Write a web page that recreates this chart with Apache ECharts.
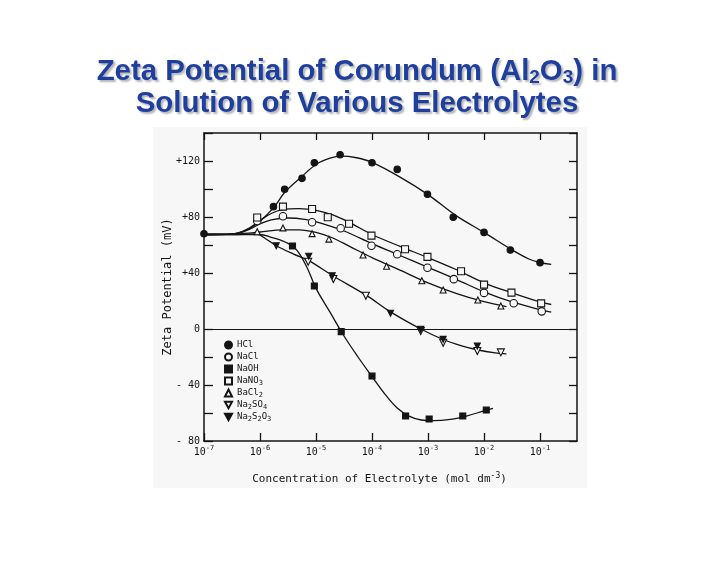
<!DOCTYPE html>
<html><head><meta charset="utf-8">
<script src="https://cdn.jsdelivr.net/npm/echarts@6/dist/echarts.min.js"></script>
<style>html,body{margin:0;padding:0;background:#fff}#c{width:728px;height:563px}</style>
</head><body><div id="c"></div>
<script>
// x values are log10 of concentration (mol dm^-3); y values are zeta potential (mV)
const seriesNames = ['HCl', 'NaCl', 'NaOH', 'NaNO3', 'BaCl2', 'Na2SO4', 'Na2S2O3'];

// measured points
const hclX = [-7, -5.76, -5.56, -5.25, -5.03, -4.57, -4.0, -3.55, -3.01, -2.55, -2.0, -1.53, -1.0];
const hclY = [68, 87.4, 99.8, 107.6, 118.8, 124.5, 118.8, 114, 96.3, 79.8, 69, 56.4, 47.4];
const naclX = [-6.05, -5.59, -5.07, -4.56, -4.01, -3.55, -3.01, -2.54, -2.0, -1.47, -0.97];
const naclY = [77.1, 80.5, 76.2, 72, 59.5, 53.4, 43.7, 35.6, 25.8, 18.4, 12.6];
const naohX = [-5.42, -5.03, -4.55, -4.0, -3.40, -2.98, -2.38, -1.96];
const naohY = [59.3, 30.7, -1.9, -33.6, -62.1, -64.3, -62.1, -57.9];
const nano3X = [-6.05, -5.59, -5.07, -4.79, -4.41, -4.01, -3.41, -3.01, -2.41, -2.0, -1.51, -0.98];
const nano3Y = [79.6, 87.4, 85.7, 79.8, 75.2, 66.7, 57, 51.5, 41.2, 31.7, 26, 18.3];
const bacl2X = [-6.05, -5.59, -5.07, -4.77, -4.16, -3.74, -3.11, -2.73, -2.11, -1.70];
const bacl2Y = [69.5, 72.2, 68.1, 64.2, 52.9, 44.8, 34.5, 27.9, 20.7, 16.4];
const na2so4X = [-5.14, -4.69, -4.11, -3.13, -2.73, -2.12, -1.70];
const na2so4Y = [48, 35.7, 23.8, -1.5, -9.8, -15.7, -16.7];
const na2s2o3X = [-5.71, -5.13, -4.71, -3.67, -3.13, -2.73, -2.12];
const na2s2o3Y = [59.5, 52, 38, 11.2, -0.2, -7.4, -12.1];

// fitted curves
const hclCurveX = [-7, -6.6, -6.4, -6.2, -6.0, -5.75, -5.55, -5.25, -5.0, -4.75, -4.55, -4.3, -4.0, -3.5, -3.0, -2.5, -2.0, -1.5, -1.2, -1.0, -0.8];
const hclCurveY = [67.5, 67.6, 68.5, 71.5, 77, 87, 98, 109, 117.5, 122, 123.5, 122.5, 119, 108.5, 96, 81, 69, 56.5, 50, 47.5, 46.2];
const naclCurveX = [-7, -6.6, -6.4, -6.2, -6.0, -5.8, -5.5, -5.2, -4.9, -4.5, -4.0, -3.5, -3.0, -2.5, -2.0, -1.5, -1.0, -0.8];
const naclCurveY = [67.5, 67.6, 68.3, 71, 75, 78, 79.3, 78.3, 75.5, 70, 61, 52.5, 44, 35.5, 26.5, 19.3, 13.8, 12];
const nano3CurveX = [-7, -6.6, -6.4, -6.2, -6.0, -5.8, -5.6, -5.3, -5.0, -4.7, -4.4, -4.0, -3.5, -3.0, -2.5, -2.0, -1.5, -1.0, -0.8];
const nano3CurveY = [67.5, 67.6, 68.5, 72, 77.5, 82.5, 85.3, 86, 84.8, 81.5, 76, 67.5, 59, 51, 42.5, 33, 25.8, 19.3, 17.5];
const bacl2CurveX = [-7, -6.5, -6.2, -6.0, -5.6, -5.3, -5.0, -4.7, -4.4, -4.0, -3.5, -3.0, -2.5, -2.0, -1.6];
const bacl2CurveY = [67.5, 67.8, 68.5, 69.3, 70.8, 70.8, 69, 65, 59, 51, 42, 33, 25.5, 19.5, 16];
const naohCurveX = [-7, -6.5, -6.0, -5.8, -5.6, -5.42, -5.3, -5.15, -5.0, -4.75, -4.5, -4.25, -4.0, -3.77, -3.55, -3.35, -3.12, -2.9, -2.6, -2.3, -2.0, -1.84];
const naohCurveY = [67.5, 67.5, 67.5, 65.5, 63, 59.3, 54, 43, 29, 12, -5, -20, -34, -46.5, -56.5, -62, -65, -65.5, -64.5, -62, -58.5, -56.7];
const sulfCurveX = [-7, -6.5, -6.05, -5.9, -5.71, -5.4, -5.13, -4.7, -4.1, -3.67, -3.13, -2.73, -2.4, -2.1, -1.8, -1.6];
const sulfCurveY = [67.5, 67.5, 67.8, 64.5, 59.5, 53.5, 48.8, 38, 24, 12.2, 0, -7.5, -12, -15, -17, -17.8];

const xTickExponents = [-7, -6, -5, -4, -3, -2, -1];
const yTickLabels = {'120': '+120', '80': '+80', '40': '+40', '0': '0', '-40': '- 40', '-80': '- 80'};

const zip = (xs, ys) => xs.map((x, i) => [x, ys[i]]);
const INK = '#141414';
const PAPER = '#f7f7f7';
const mono = 'DejaVu Sans Mono';
const downTri = 'path://M0,0L10,0L5,9Z';

const markerDefs = {
  'HCl':     {x: hclX, y: hclY, symbol: 'circle', size: 6.5, fill: INK},
  'NaCl':    {x: naclX, y: naclY, symbol: 'circle', size: 7.5, fill: PAPER},
  'NaOH':    {x: naohX, y: naohY, symbol: 'rect', size: 6, fill: INK},
  'NaNO3':   {x: nano3X, y: nano3Y, symbol: 'rect', size: 7, fill: PAPER},
  'BaCl2':   {x: bacl2X, y: bacl2Y, symbol: 'triangle', size: 6, fill: PAPER},
  'Na2SO4':  {x: na2so4X, y: na2so4Y, symbol: downTri, size: 7, fill: PAPER},
  'Na2S2O3': {x: na2s2o3X, y: na2s2o3Y, symbol: downTri, size: 6, fill: INK}
};
const curves = [
  [hclCurveX, hclCurveY], [naclCurveX, naclCurveY], [nano3CurveX, nano3CurveY],
  [bacl2CurveX, bacl2CurveY], [naohCurveX, naohCurveY], [sulfCurveX, sulfCurveY]
];

const series = [];
curves.forEach((c, i) => {
  series.push({
    type: 'line', name: 'fit' + i, data: zip(c[0], c[1]), smooth: 0.35,
    symbol: 'none', silent: true, z: 2,
    lineStyle: {color: INK, width: 1.3},
    markLine: i === 0 ? {
      silent: true, symbol: 'none', label: {show: false},
      lineStyle: {color: INK, width: 1.2, type: 'solid'},
      data: [{yAxis: 0}]
    } : undefined
  });
});
seriesNames.forEach(n => {
  const d = markerDefs[n];
  series.push({
    type: 'scatter', name: n, data: zip(d.x, d.y), symbol: d.symbol, symbolSize: d.size, z: 4,
    itemStyle: {color: d.fill, borderColor: INK, borderWidth: 1.1, opacity: 1}
  });
});

const subFmt = s => s.replace(/(\d)/g, '{sub|$1}');
const TITLE_BLUE = '#1f3f9f';
const shadow = {textShadowColor: 'rgba(0,0,0,0.3)', textShadowOffsetX: 2, textShadowOffsetY: 2, textShadowBlur: 2};

const chart = echarts.init(document.getElementById('c'));
chart.setOption({
  backgroundColor: '#ffffff',
  animation: false,
  title: {
    left: 357, top: 56, padding: 0, textAlign: 'center',
    text: '{t|Zeta Potential of Corundum (Al}{s|2}{t|O}{s|3}{t|) in}\n{t|Solution of Various Electrolytes}',
    textStyle: {
      rich: {
        t: Object.assign({fontSize: 29.4, fontWeight: 'bold', fontFamily: 'Liberation Sans', color: TITLE_BLUE, lineHeight: 32}, shadow),
        s: Object.assign({fontSize: 19, fontWeight: 'bold', fontFamily: 'Liberation Sans', color: TITLE_BLUE, lineHeight: 20, padding: [12, 0, 0, 0]}, shadow)
      }
    }
  },
  graphic: {elements: [{type: 'rect', z: -100, silent: true, shape: {x: 153, y: 127, width: 434, height: 361}, style: {fill: PAPER}}]},
  legend: {
    orient: 'vertical', left: 224, top: 339, itemWidth: 7, itemHeight: 7, itemGap: 0, padding: 0,
    data: seriesNames,
    formatter: n => subFmt(n),
    textStyle: {fontFamily: mono, fontSize: 9, color: INK, lineHeight: 12,
      rich: {sub: {fontFamily: mono, fontSize: 7, color: INK, lineHeight: 8, padding: [4, 0, 0, 0]}}},
    selectedMode: false
  },
  grid: {left: 204, right: 151, top: 133, bottom: 122, containLabel: false},
  xAxis: [{
    type: 'value', min: -7, max: -0.34, interval: 1, position: 'bottom',
    name: 'Concentration of Electrolyte (mol dm{sup|-3})', nameLocation: 'middle', nameGap: 31,
    nameMoveOverlap: false,
    nameTextStyle: {fontFamily: mono, fontSize: 11, color: INK, padding: [0, 22, 0, 0],
      rich: {sup: {fontFamily: mono, fontSize: 8, color: INK, padding: [0, 0, 7, 0]}}},
    axisLine: {show: true, onZero: false, lineStyle: {color: INK, width: 1.5}},
    axisTick: {show: true, inside: true, length: 8, lineStyle: {color: INK, width: 1.3},
      customValues: xTickExponents},
    splitLine: {show: false},
    axisLabel: {
      margin: 4, customValues: xTickExponents,
      formatter: v => xTickExponents.indexOf(v) >= 0 ? '{b|10}{sup|' + v + '}' : '',
      rich: {b: {fontFamily: mono, fontSize: 10, color: INK},
             sup: {fontFamily: mono, fontSize: 7, color: INK, padding: [0, 0, 8, 0]}}
    }
  }, {
    type: 'value', min: -7, max: -0.34, interval: 1, position: 'top',
    axisLine: {show: true, onZero: false, lineStyle: {color: INK, width: 1.5}},
    axisTick: {show: true, inside: true, length: 7, lineStyle: {color: INK, width: 1.3},
      customValues: xTickExponents},
    axisLabel: {show: false}, splitLine: {show: false}
  }],
  yAxis: [{
    type: 'value', min: -80, max: 140, interval: 20, position: 'left',
    name: 'Zeta Potential (mV)', nameLocation: 'middle', nameGap: 30,
    nameMoveOverlap: false,
    nameTextStyle: {fontFamily: mono, fontSize: 12, color: INK},
    axisLine: {show: true, onZero: false, lineStyle: {color: INK, width: 1.5}},
    axisTick: {show: true, inside: true, length: 9, lineStyle: {color: INK, width: 1.3}},
    splitLine: {show: false},
    axisLabel: {margin: 4, fontFamily: mono, fontSize: 10, color: INK,
      formatter: v => yTickLabels[String(v)] || ''}
  }, {
    type: 'value', min: -80, max: 140, interval: 20, position: 'right',
    axisLine: {show: true, onZero: false, lineStyle: {color: INK, width: 1.5}},
    axisTick: {show: true, inside: true, length: 8, lineStyle: {color: INK, width: 1.3}},
    axisLabel: {show: false}, splitLine: {show: false}
  }],
  series: series
});
</script></body></html>
